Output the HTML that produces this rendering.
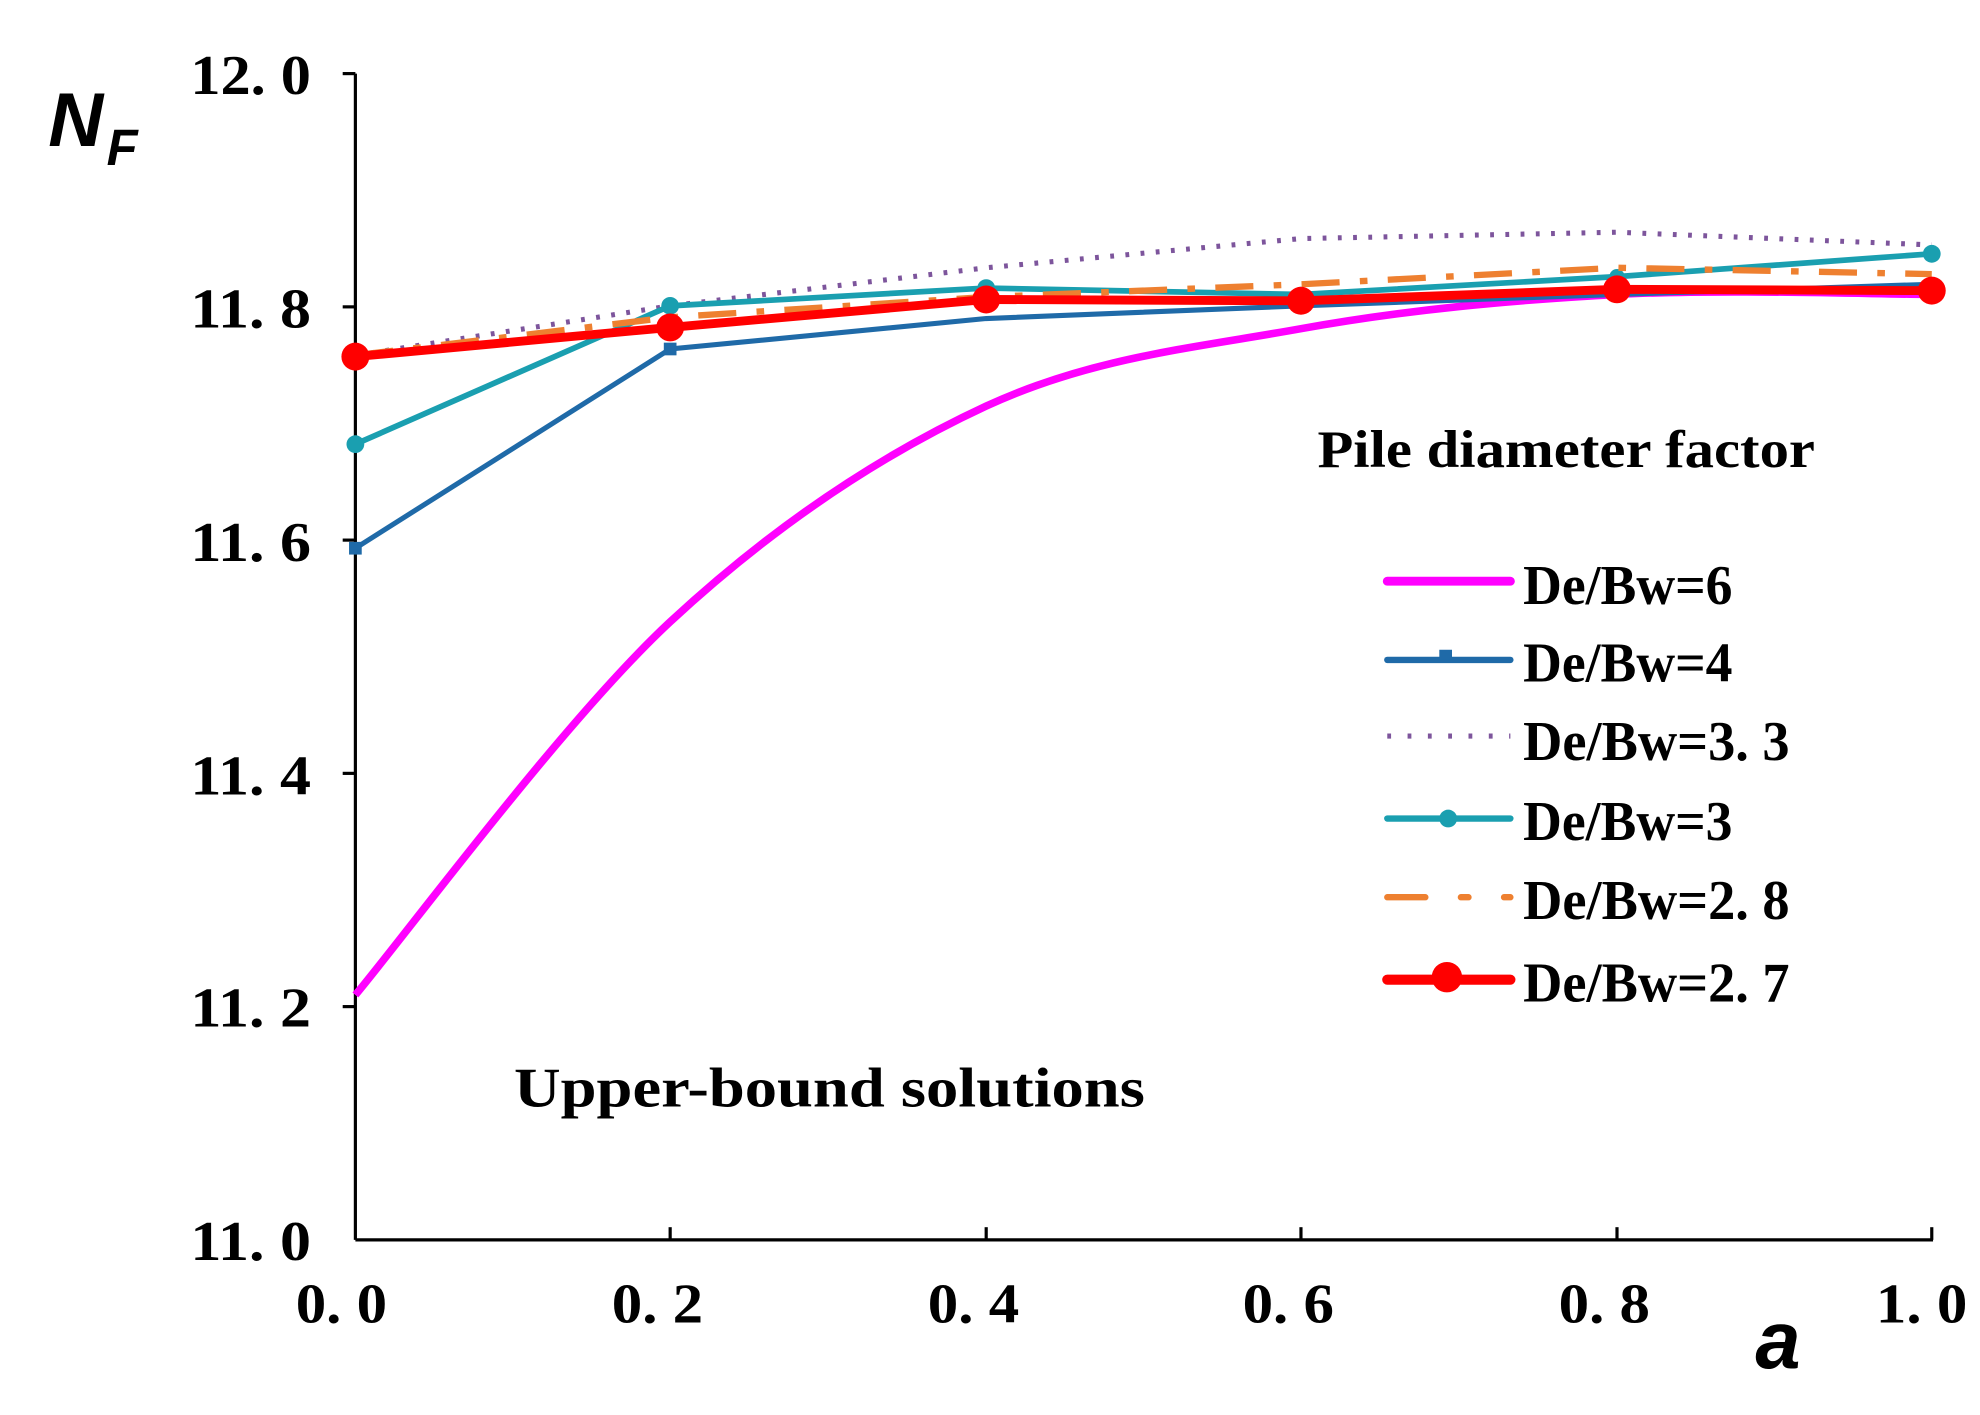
<!DOCTYPE html>
<html><head><meta charset="utf-8"><style>html,body{margin:0;padding:0;background:#fff}svg{display:block}</style></head>
<body>
<svg width="1980" height="1415" viewBox="0 0 1560 1115" preserveAspectRatio="none" xmlns="http://www.w3.org/2000/svg">
<rect width="1560" height="1115" fill="#fff"/>
<g stroke="#000" stroke-width="2.5" fill="none">
<line x1="280" y1="58" x2="280" y2="977"/>
<line x1="280" y1="977" x2="1523" y2="977"/>
<line x1="270" y1="58" x2="280" y2="58"/><line x1="270" y1="241.8" x2="280" y2="241.8"/><line x1="270" y1="425.6" x2="280" y2="425.6"/><line x1="270" y1="609.4" x2="280" y2="609.4"/><line x1="270" y1="793.2" x2="280" y2="793.2"/>
<line x1="528" y1="977" x2="528" y2="967"/><line x1="777" y1="977" x2="777" y2="967"/><line x1="1025" y1="977" x2="1025" y2="967"/><line x1="1274" y1="977" x2="1274" y2="967"/><line x1="1522" y1="977" x2="1522" y2="967"/>
</g>
<g font-family="Liberation Serif, serif" font-weight="bold" font-size="44" fill="#000" lengthAdjust="spacingAndGlyphs">
<text x="150" y="74" textLength="95" lengthAdjust="spacingAndGlyphs">12. 0</text>
<text x="150" y="258" textLength="95" lengthAdjust="spacingAndGlyphs">11. 8</text>
<text x="150" y="442" textLength="95" lengthAdjust="spacingAndGlyphs">11. 6</text>
<text x="150" y="626" textLength="95" lengthAdjust="spacingAndGlyphs">11. 4</text>
<text x="150" y="809" textLength="95" lengthAdjust="spacingAndGlyphs">11. 2</text>
<text x="150" y="993" textLength="95" lengthAdjust="spacingAndGlyphs">11. 0</text>
<text x="233" y="1042" textLength="72" lengthAdjust="spacingAndGlyphs">0. 0</text>
<text x="482" y="1042" textLength="72" lengthAdjust="spacingAndGlyphs">0. 2</text>
<text x="731" y="1042" textLength="72" lengthAdjust="spacingAndGlyphs">0. 4</text>
<text x="979" y="1042" textLength="72" lengthAdjust="spacingAndGlyphs">0. 6</text>
<text x="1228" y="1042" textLength="72" lengthAdjust="spacingAndGlyphs">0. 8</text>
<text x="1478" y="1042" textLength="72" lengthAdjust="spacingAndGlyphs">1. 0</text>
<text x="1038" y="368" font-size="42" textLength="392" lengthAdjust="spacingAndGlyphs">Pile diameter factor</text>
<text x="405" y="872" font-size="44" textLength="497" lengthAdjust="spacingAndGlyphs">Upper-bound solutions</text>
</g>
<g font-family="Liberation Sans, sans-serif" font-weight="bold" font-style="italic" fill="#000">
<text x="38" y="115" font-size="60">N</text><text x="84" y="130" font-size="40">F</text>
<text x="1383" y="1078" font-size="64">a</text>
</g>
<path d="M280,784 C321,735 445,567 528,490 C611,413 694,358.5 777,320 C860,281.5 942,274 1025,259 C1108,244 1191,236.5 1274,232 C1357,227.5 1481,232 1522,232" stroke="#ff00ff" stroke-width="6" fill="none"/>
<polyline points="280,432 528,275 777,251 1025,241 1274,232 1522,224" stroke="#1f6aa8" stroke-width="4" fill="none"/>
<g fill="#1f6aa8"><rect x="275" y="427" width="10" height="10"/><rect x="523" y="270" width="10" height="10"/></g>
<polyline points="280,280 528,241 777,211 1025,188 1274,183 1522,193" stroke="#7d559c" stroke-width="4" stroke-dasharray="3,9" fill="none"/>
<polyline points="280,350 528,241 777,227 1025,232 1274,218 1522,200" stroke="#1a9fb0" stroke-width="4.5" fill="none"/>
<g fill="#1a9fb0"><circle cx="280" cy="350" r="7"/><circle cx="528" cy="241" r="7"/><circle cx="777" cy="227" r="7"/><circle cx="1025" cy="232" r="6"/><circle cx="1274" cy="218" r="6"/><circle cx="1522" cy="200" r="7"/></g>
<polyline points="280,280 528,250 777,234 1025,224 1274,211 1522,216" stroke="#ee8030" stroke-width="5" stroke-dasharray="30,16,6,16" fill="none"/>
<polyline points="280,281 528,258 777,236 1025,237 1274,228 1522,229" stroke="#ff0000" stroke-width="7" fill="none"/>
<g fill="#ff0000"><circle cx="280" cy="281" r="11"/><circle cx="528" cy="258" r="11"/><circle cx="777" cy="236" r="11"/><circle cx="1025" cy="237" r="11"/><circle cx="1274" cy="228" r="11"/><circle cx="1522" cy="229" r="11"/></g>
<g>
<line x1="1093" y1="458" x2="1190" y2="458" stroke="#ff00ff" stroke-width="7" stroke-linecap="round"/>
<line x1="1093" y1="520" x2="1190" y2="520" stroke="#1f6aa8" stroke-width="5" stroke-linecap="round"/><rect x="1134" y="512" width="10" height="8" fill="#1f6aa8"/>
<line x1="1093" y1="580" x2="1190" y2="580" stroke="#7d559c" stroke-width="4" stroke-dasharray="3,13"/>
<line x1="1093" y1="645" x2="1190" y2="645" stroke="#1a9fb0" stroke-width="5" stroke-linecap="round"/><circle cx="1141" cy="645" r="7" fill="#1a9fb0"/>
<line x1="1093" y1="707" x2="1190" y2="707" stroke="#ee8030" stroke-width="5" stroke-dasharray="30,28,6,28,6,100" stroke-linecap="round"/>
<line x1="1093" y1="772" x2="1190" y2="772" stroke="#ff0000" stroke-width="8" stroke-linecap="round"/><circle cx="1140" cy="770" r="12" fill="#ff0000"/>
</g>
<g font-family="Liberation Serif, serif" font-weight="bold" font-size="44" fill="#000">
<text x="1200" y="476" textLength="165" lengthAdjust="spacingAndGlyphs">De/Bw=6</text>
<text x="1200" y="537" textLength="165" lengthAdjust="spacingAndGlyphs">De/Bw=4</text>
<text x="1200" y="599" textLength="210" lengthAdjust="spacingAndGlyphs">De/Bw=3. 3</text>
<text x="1200" y="662" textLength="165" lengthAdjust="spacingAndGlyphs">De/Bw=3</text>
<text x="1200" y="724" textLength="210" lengthAdjust="spacingAndGlyphs">De/Bw=2. 8</text>
<text x="1200" y="789" textLength="210" lengthAdjust="spacingAndGlyphs">De/Bw=2. 7</text>
</g>
</svg>
</body></html>
